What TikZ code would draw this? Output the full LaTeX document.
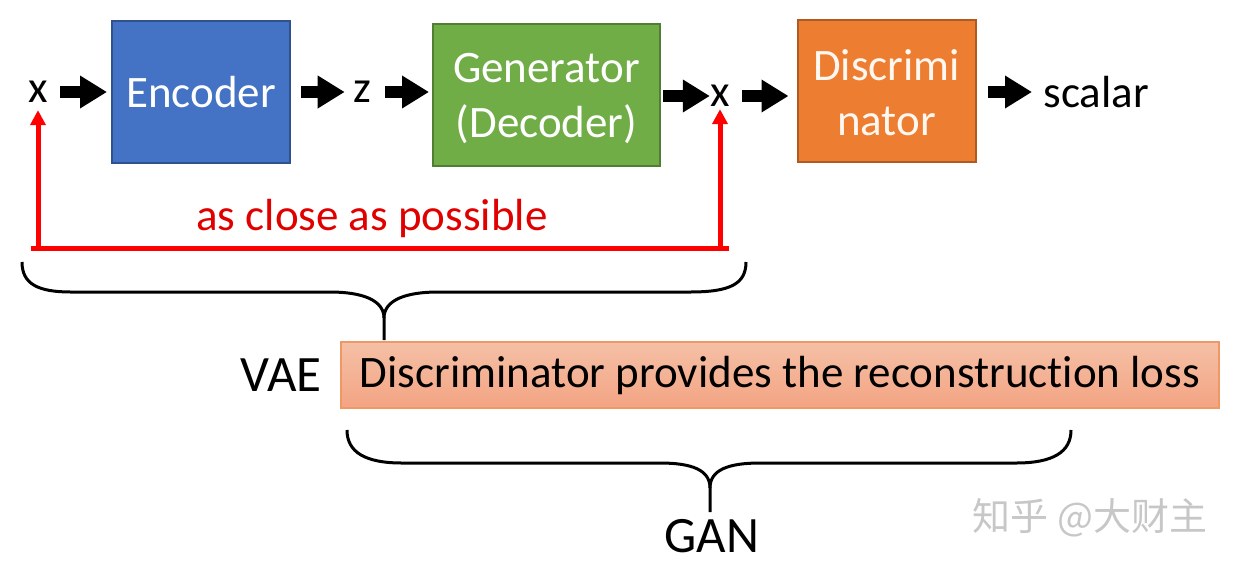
\documentclass[tikz,border=0pt]{standalone}
\usepackage{fontspec}
\setmainfont{Carlito}[Ligatures=NoCommon]
\newfontfamily\zhfont{Noto Sans CJK SC}
\usetikzlibrary{arrows.meta}
\definecolor{encblue}{HTML}{4472C4}
\definecolor{encedge}{HTML}{2F528F}
\definecolor{gengreen}{HTML}{70AD47}
\definecolor{genedge}{HTML}{507E32}
\definecolor{disorange}{HTML}{ED7D31}
\definecolor{disedge}{HTML}{AE5A21}
\definecolor{peachtop}{HTML}{F5C0A6}
\definecolor{peachbot}{HTML}{F3A483}
\definecolor{peachedge}{HTML}{EE9866}
\definecolor{fbred}{HTML}{FF0000}
\definecolor{fbtext}{HTML}{E00000}
\tikzset{
  lbl/.style={font=\fontsize{22.5}{27}\selectfont, inner sep=0pt},
  netbox/.style={lbl, draw, line width=1pt, text=white, align=center,
    minimum width=89pt, minimum height=71pt},
  blk/.style={line width=6pt, -{Triangle[length=13.5pt,width=15.5pt]}},
  fb/.style={fbred, line width=2.5pt},
  brc/.style={line width=1.5pt}
}
\begin{document}
\begin{tikzpicture}[x=0.5pt, y=-0.5pt]
    \useasboundingbox (0,0) rectangle (1235,568);
    % top row
    \node[lbl] (xin) at (38,92) {x};
    \node[netbox, fill=encblue, draw=encedge] (enc) at (201,92) {Encoder};
    \node[lbl] (z) at (362,92) {z};
    \node[netbox, fill=gengreen, draw=genedge, minimum width=113.5pt,
      font=\fontsize{22.5}{27.5}\selectfont] (gen) at (546.5,95) {\rule{0pt}{18.5pt}Generator\\(Decoder)};
    \node[lbl] (xout) at (720,96) {x};
    \node[netbox, fill=disorange, draw=disedge, text=white!94!orange,
      font=\fontsize{22.5}{27.5}\selectfont] (dis) at (886.5,91) {\rule{0pt}{17pt}Discrimi\\nator};
    \node[lbl, anchor=west] (scalar) at (1043,92) {scalar};
    \draw[blk, shorten <=6pt, shorten >=2pt] (xin) -- (xin -| enc.west);
    \draw[blk, shorten <=5pt, shorten >=4pt] (enc) -- (enc -| z.west);
    \draw[blk, shorten <=7pt, shorten >=1.5pt] (z) -- (z -| gen.west);
    \draw[blk, shorten <=1pt] (xout -| gen.east) -- (xout.west);
    \draw[blk, shorten <=6pt, shorten >=4pt] (xout) -- (xout -| dis.west);
    \draw[blk, shorten <=5.5pt, shorten >=5.5pt] (dis.east |- scalar) -- (scalar.west);
    % reconstruction loop
    \coordinate (lowL) at (31,248);
    \coordinate (lowR) at (729,248);
    \draw[fb] (lowL) -- (lowR);
    \draw[fb, -{Triangle[length=7.5pt,width=7.5pt]}, shorten >=3.5pt] (lowL -| xin) -- (xin.south);
    \draw[fb, -{Triangle[length=7.5pt,width=7.5pt]}, shorten >=1pt] (lowR -| xout) -- (xout.south);
    \node[lbl, text=fbtext] (close) at (372,218) {as close as possible};
    % braces
    \draw[brc] (22,262) .. controls (22,284) and (38,292) .. (71,292) -- (330,292)
      .. controls (362,292) and (384,300) .. (384,318) -- (384,340);
    \draw[brc] (384,318) .. controls (384,300) and (406,292) .. (438,292) -- (690,292)
      .. controls (730,292) and (746,284) .. (746,262);
    \draw[brc] (347,430) .. controls (347,452) and (365,463) .. (402,463) -- (660,463)
      .. controls (692,463) and (710,470) .. (710,488) -- (710,512);
    \draw[brc] (710,488) .. controls (710,470) and (728,463) .. (760,463) -- (1016,463)
      .. controls (1053,463) and (1071,452) .. (1071,430);
    % losses
    \node[lbl, draw=peachedge, line width=0.8pt, top color=peachtop, bottom color=peachbot,
      minimum width=439pt, minimum height=33pt, font=\fontsize{22.5}{27}\selectfont]
      (loss) at (780,375) {Discriminator provides the reconstruction loss};
    \node[lbl, anchor=east, font=\fontsize{25.5}{30}\selectfont] (vae) at (322,375) {VAE};
    \node[lbl, font=\fontsize{25.5}{30}\selectfont] (gan) at (712,536) {GAN};
    \node[lbl, text=black!22, font=\zhfont\fontsize{19}{23}\selectfont] (mark) at (1090,518) {知乎 @大财主};
\end{tikzpicture}
\end{document}
